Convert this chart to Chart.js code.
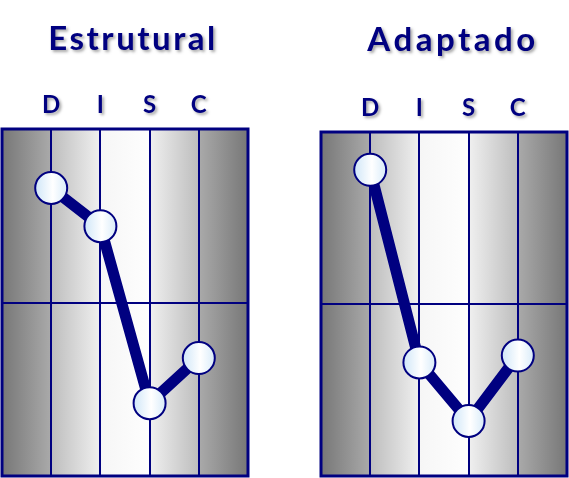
<!DOCTYPE html>
<html>
<head>
<meta charset="utf-8">
<script src="https://cdn.jsdelivr.net/npm/chart.js@4/dist/chart.umd.min.js"></script>
<style>
  html, body { margin: 0; padding: 0; background: #fff; }
  #page { position: relative; width: 569px; height: 478px; overflow: hidden; }
  .panel { position: absolute; top: 0; height: 478px; }
  #p-left  { left: 0;     width: 285px; }
  #p-right { left: 285px; width: 284px; }
</style>
</head>
<body>
<div id="page">
  <div class="panel" id="p-left"><canvas id="c-left"></canvas></div>
  <div class="panel" id="p-right"><canvas id="c-right"></canvas></div>
</div>
<script>
'use strict';

// ── Data ───────────────────────────────────────────────────────────────────
const FACTORS    = ['D', 'I', 'S', 'C'];
const ESTRUTURAL = [83, 72, 21, 34];
const ADAPTADO   = [89, 33, 16, 35];
const Y_TICKS    = [0, 50, 100];

// ── Style ──────────────────────────────────────────────────────────────────
const NAVY = '#000080';
const POINT_R = 16;
// gradient per column band, left → right
const BANDS = [
  ['#777777', '#aaaaaa'],
  ['#bdbdbd', '#f0f0f0'],
  ['#f6f6f6', '#fefefe'],
  ['#f0f0f0', '#bdbdbd'],
  ['#aaaaaa', '#777777'],
];

function withShadow(ctx) {
  ctx.shadowColor = 'rgba(0,0,0,0.35)';
  ctx.shadowOffsetX = 2;
  ctx.shadowOffsetY = 2;
  ctx.shadowBlur = 3;
}

// light-blue → white → light-blue fill for each marker
function pointFill(c) {
  const { chart, parsed } = c;
  const x = chart.scales && chart.scales.x;
  const px = (parsed && x) ? x.getPixelForValue(parsed.x) : NaN;
  if (!isFinite(px)) return '#eaf4fc';
  const g = chart.ctx.createLinearGradient(px - POINT_R, 0, px + POINT_R, 0);
  g.addColorStop(0, '#cfe6f8');
  g.addColorStop(0.55, '#ffffff');
  g.addColorStop(1, '#d8ebf9');
  return g;
}

// striped gradient background + frame + title with shadow
const panelPlugin = {
  id: 'panel',
  beforeDraw(chart, args, opts) {
    const { ctx, chartArea: a, scales: { x } } = chart;
    ctx.save();
    BANDS.forEach((b, i) => {
      const x0 = x.getPixelForValue(i), x1 = x.getPixelForValue(i + 1);
      const g = ctx.createLinearGradient(x0, 0, x1, 0);
      g.addColorStop(0, b[0]);
      g.addColorStop(1, b[1]);
      ctx.fillStyle = g;
      ctx.fillRect(x0, a.top, x1 - x0, a.bottom - a.top);
    });
    // title
    ctx.font = 'bold 33px Lato';
    ctx.letterSpacing = opts.spacing;
    ctx.textAlign = 'center';
    ctx.textBaseline = 'middle';
    withShadow(ctx);
    ctx.fillStyle = NAVY;
    ctx.fillText(opts.text, opts.cx, opts.cy);
    ctx.restore();
  },
  beforeDatasetsDraw(chart) {
    const { ctx, chartArea: a } = chart;
    ctx.save();
    ctx.strokeStyle = NAVY;
    ctx.lineWidth = 3;
    ctx.strokeRect(a.left, a.top, a.right - a.left, a.bottom - a.top);
    ctx.restore();
  }
};

// tick labels get the same soft shadow as the titles
function shadowLabels(s) {
  if (s._shadowed) return;
  const orig = s.drawLabels;
  s.drawLabels = function (area) {
    this.ctx.save();
    withShadow(this.ctx);
    orig.call(this, area);
    this.ctx.restore();
  };
  s._shadowed = true;
}

function makePanel(id, title, values, pad, titleOpts) {
  return new Chart(document.getElementById(id), {
    type: 'line',
    data: {
      datasets: [{
        label: title,
        data: values.map((v, i) => ({ x: i + 1, y: v })),
        borderColor: NAVY,
        borderWidth: 11,
        tension: 0,
        pointRadius: POINT_R,
        pointHoverRadius: POINT_R,
        pointBorderWidth: 2,
        pointBorderColor: NAVY,
        pointBackgroundColor: pointFill,
      }]
    },
    options: {
      responsive: true,
      maintainAspectRatio: false,
      animation: false,
      events: [],
      layout: { padding: pad, autoPadding: false },
      plugins: {
        legend: { display: false },
        tooltip: { enabled: false },
        panel: Object.assign({ text: title }, titleOpts),
      },
      scales: {
        x: {
          type: 'linear',
          position: 'top',
          min: 0, max: FACTORS.length + 1,
          afterBuildTicks: s => { s.ticks = [0, 1, 2, 3, 4, 5].map(v => ({ value: v })); },
          afterFit: s => { s.height = 40; s.paddingLeft = 0; s.paddingRight = 0; },
          afterUpdate: shadowLabels,
          ticks: {
            padding: 9,
            color: NAVY,
            font: { family: 'Lato', size: 24, weight: 'bold' },
            callback: v => FACTORS[v - 1] || '',
            maxRotation: 0,
          },
          grid: { color: NAVY, lineWidth: 2, drawTicks: false },
          border: { display: false },
        },
        y: {
          min: 0, max: 100,
          afterBuildTicks: s => { s.ticks = Y_TICKS.map(v => ({ value: v })); },
          afterFit: s => { s.width = 0; s.paddingTop = 0; s.paddingBottom = 0; },
          ticks: { display: false },
          grid: { color: NAVY, lineWidth: 2, drawTicks: false },
          border: { display: false },
        }
      }
    },
    plugins: [panelPlugin]
  });
}

document.addEventListener('DOMContentLoaded', () => {
  makePanel('c-left',  'Estrutural', ESTRUTURAL, { left: 2, right: 37, top: 89, bottom: 2 },
            { cx: 133, cy: 39.5, spacing: '2.5px' });
  makePanel('c-right', 'Adaptado',   ADAPTADO,   { left: 36, right: 2, top: 92, bottom: 2 },
            { cx: 168, cy: 40.5, spacing: '3.5px' });
});
</script>
</body>
</html>
